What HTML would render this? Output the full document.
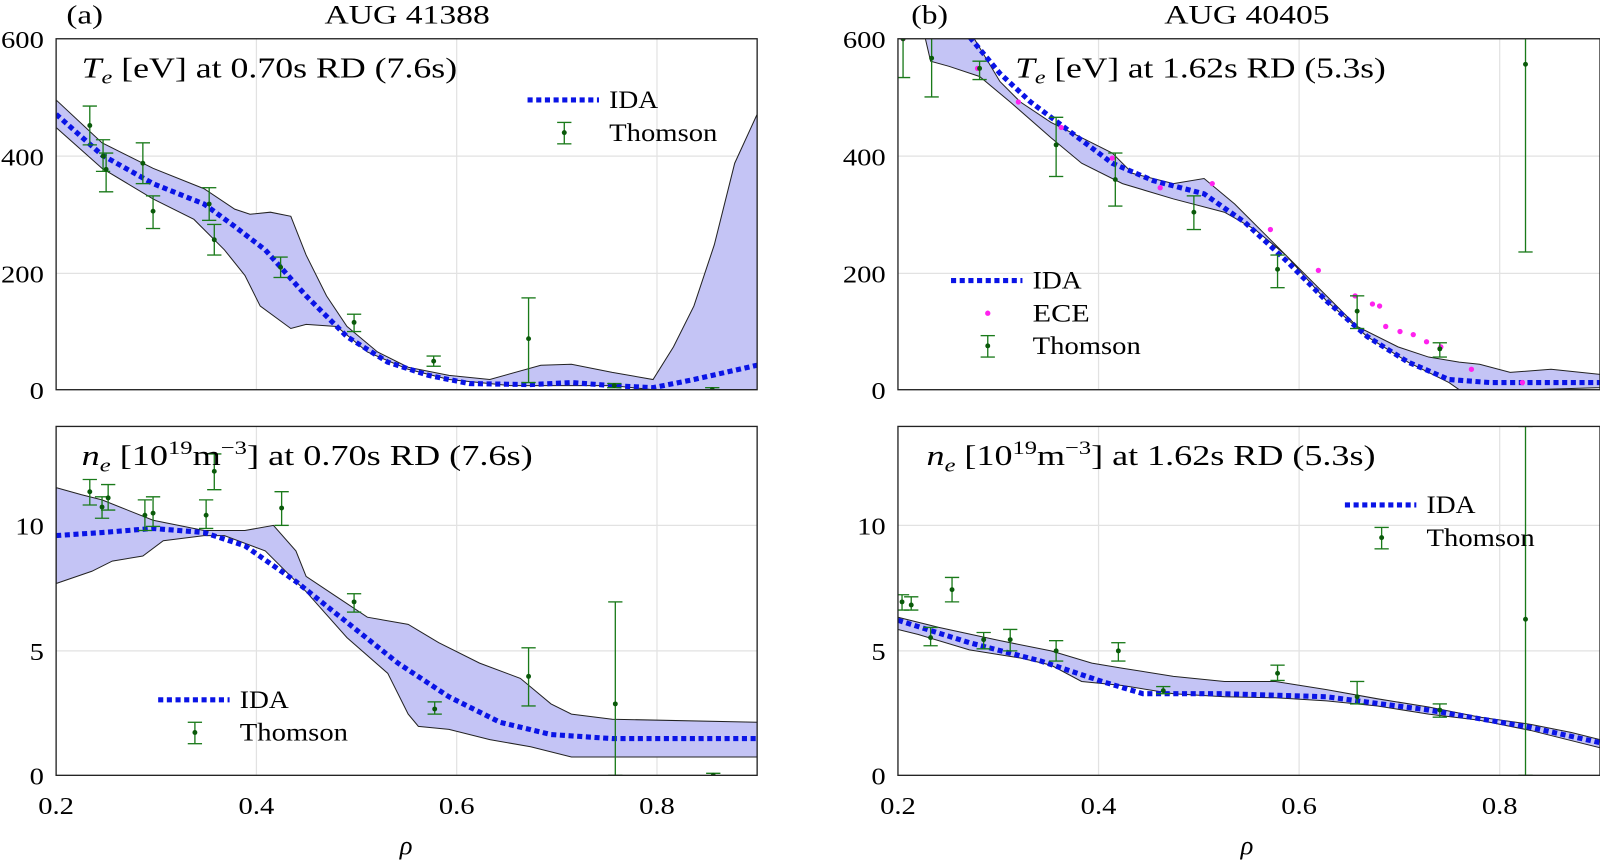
<!DOCTYPE html>
<html><head><meta charset="utf-8"><style>html,body{margin:0;padding:0;background:#fff}svg{display:block}</style></head>
<body>
<svg id="s" width="1600" height="860" viewBox="0 0 1568 843" preserveAspectRatio="none" xmlns="http://www.w3.org/2000/svg" font-family="Liberation Serif, serif">
<defs>
<clipPath id="c1"><rect x="55" y="38" width="687" height="344"/></clipPath>
<clipPath id="c2"><rect x="55" y="418" width="687" height="342"/></clipPath>
<clipPath id="c3"><rect x="880" y="38" width="688" height="344"/></clipPath>
<clipPath id="c4"><rect x="880" y="418" width="688" height="342"/></clipPath>
</defs>
</svg>
<script>
const S=document.getElementById('s');const NS='http://www.w3.org/2000/svg';
function el(t,a,p){const e=document.createElementNS(NS,t);for(const k in a)e.setAttribute(k,a[k]);(p||S).appendChild(e);return e;}
function txt(x,y,s,size,anchor,len){const a={x,y,'font-size':size,'text-anchor':anchor||'start',fill:'#000'};if(len){a.textLength=len;a.lengthAdjust='spacingAndGlyphs';}const e=el('text',a);e.innerHTML=s;return e;}
function pts(a){return a.map(p=>p.join(',')).join(' ');}
function panel(x0,y0,w,h,yt,xt,ylab,xlab,clip,up,lo,ida,th,ece){
  const ex=[0.4,0.6,0.8];
  ex.forEach((v,i)=>{const x=x0+(v-0.2)/0.7*w;el('line',{x1:x,x2:x,y1:y0,y2:y0+h,stroke:'#e2e2e2','stroke-width':1.2});});
  yt.forEach(([y,l])=>{el('line',{x1:x0,x2:x0+w,y1:y,y2:y,stroke:'#e2e2e2','stroke-width':1.2});if(ylab)txt(x0-12,y+9,l,24,'end',l.length*14);});
  const g=el('g',{'clip-path':'url(#'+clip+')'});
  el('polygon',{points:pts(up.concat(lo)),fill:'#c4c4f5',stroke:'#222','stroke-width':1},g);
  el('polyline',{points:pts(ida),fill:'none',stroke:'#0a14e6','stroke-width':5,'stroke-dasharray':'5 3.5'},g);
  if(ece)ece.forEach(p=>el('circle',{cx:p[0],cy:p[1],r:2.6,fill:'#ff22ee'},g));
  th.forEach(([x,y,t,b])=>{el('line',{x1:x,x2:x,y1:t,y2:b,stroke:'#1a7a1a','stroke-width':1.3},g);
    el('line',{x1:x-7,x2:x+7,y1:t,y2:t,stroke:'#1a7a1a','stroke-width':1.3},g);el('line',{x1:x-7,x2:x+7,y1:b,y2:b,stroke:'#1a7a1a','stroke-width':1.3},g);
    el('circle',{cx:x,cy:y,r:2.4,fill:'#0a5a0a'},g);});
  el('rect',{x:x0,y:y0,width:w,height:h,fill:'none',stroke:'#222','stroke-width':1.3});
  [0.2,0.4,0.6,0.8].forEach(v=>{const x=x0+(v-0.2)/0.7*w;if(xlab)txt(x,y0+h+38,v.toFixed(1),24,'middle',35);});
}
panel(55,38,687,344,[[38,'600'],[153,'400'],[268,'200'],[382,'0']],0,1,0,'c1',
[[55,98],[100,140],[150,165],[200,185],[230,205],[245,210],[265,208],[285,212],[300,250],[320,290],[340,320],[370,345],[400,360],[440,368],[480,372],[530,358],[560,357],[600,365],[640,372],[660,340],[680,300],[700,240],[720,160],[742,112]],
[[742,382],[640,382],[600,378],[560,378],[500,378],[440,372],[400,362],[360,345],[330,320],[300,318],[285,322],[255,300],[240,270],[220,245],[190,215],[150,195],[100,165],[55,125]],
[[55,112],[100,152],[150,180],[200,200],[230,222],[260,245],[300,290],[340,330],[380,355],[420,368],[460,376],[520,377],[560,375],[600,378],[640,380],[680,372],[742,358]],
[[88,123,104,142],[101,153,137,168],[104,166,150,188],[140,160,140,180],[150,207,192,224],[205,200,184,216],[210,235,220,250],[275,262,252,272],[347,316,308,325],[425,354,349,359],[518,332,292,375],[602,378,376,380],[698,382,380,384]]);
panel(55,418,687,342,[[515,'10'],[638,'5'],[760,'0']],0,1,1,'c2',
[[55,478],[80,485],[100,490],[150,510],[200,520],[240,520],[268,515],[290,540],[300,565],[330,585],[360,605],[400,612],[430,630],[470,650],[510,665],[540,690],[560,700],[600,705],[742,708]],
[[742,742],[620,742],[560,742],[520,732],[480,725],[440,715],[410,712],[400,700],[380,660],[340,625],[300,580],[260,540],[220,525],[200,525],[160,530],[140,545],[110,550],[90,560],[55,572]],
[[55,525],[100,522],[150,518],[200,522],[240,535],[290,570],[340,610],[390,650],[440,683],[490,708],[540,720],[600,724],[742,724]],
[[88,482,470,495],[100,497,487,508],[106,488,475,500],[142,505,490,520],[150,503,487,516],[202,505,490,518],[210,462,445,480],[276,498,482,515],[347,590,582,600],[426,695,688,700],[518,663,635,692],[603,690,590,760],[699,760,758,762]]);
panel(880,38,688,344,[[38,'600'],[153,'400'],[268,'200'],[382,'0']],0,1,0,'c3',
[[880,30],[950,30],[980,80],[1000,100],[1030,120],[1060,135],[1090,150],[1110,170],[1150,180],[1180,175],[1210,200],[1250,240],[1300,290],[1330,320],[1370,340],[1400,350],[1430,355],[1450,357],[1480,365],[1520,362],[1568,367]],
[[1568,380],[1500,382],[1430,382],[1420,375],[1380,355],[1340,330],[1300,295],[1260,250],[1230,225],[1200,208],[1150,195],[1100,180],[1060,160],[1030,135],[990,100],[960,75],[930,65],[912,60],[905,30]],
[[945,30],[980,72],[1010,100],[1050,130],[1090,160],[1130,177],[1180,190],[1220,218],[1260,255],[1300,295],[1340,330],[1380,355],[1420,372],[1460,375],[1568,375]],
[[885,38,30,76],[913,57,30,95],[960,67,60,78],[1035,142,115,173],[1093,176,150,202],[1170,208,192,225],[1252,264,250,282],[1330,305,290,322],[1411,342,336,350],[1495,63,30,247]],
[[885,38],[958,67],[998,100],[1040,125],[1090,155],[1137,184],[1188,180],[1245,225],[1292,265],[1328,290],[1345,298],[1352,300],[1358,320],[1372,325],[1385,328],[1398,335],[1412,340],[1442,362],[1492,375]]);
panel(880,418,688,342,[[515,'10'],[638,'5'],[760,'0']],0,1,1,'c4',
[[880,605],[920,615],[980,628],[1030,638],[1070,650],[1100,655],[1150,663],[1200,668],[1250,668],[1300,676],[1350,685],[1400,693],[1450,703],[1500,710],[1540,718],[1568,725]],
[[1568,733],[1500,716],[1450,706],[1400,700],[1350,692],[1300,687],[1250,684],[1200,683],[1150,680],[1100,672],[1060,668],[1030,652],[1000,645],[950,637],[900,622],[880,617]],
[[880,608],[950,630],[1020,648],[1080,668],[1120,680],[1200,680],[1300,683],[1400,696],[1500,713],[1568,728]],
[[884,590,583,598],[893,593,585,598],[912,625,615,633],[933,578,566,590],[964,627,620,636],[990,627,617,638],[1035,638,628,648],[1096,638,630,648],[1140,677,673,680],[1252,660,652,667],[1330,683,668,690],[1411,696,690,703],[1495,607,418,760]]);
function leg(x,y,items){items.forEach(([t,l],i)=>{const yy=y+i*32;
 if(t=='ida')el('line',{x1:x,x2:x+70,y1:yy,y2:yy,stroke:'#0a14e6','stroke-width':5,'stroke-dasharray':'5 3.5'});
 if(t=='ece')el('circle',{cx:x+36,cy:yy,r:2.6,fill:'#ff22ee'});
 if(t=='th'){const c=x+36;el('line',{x1:c,x2:c,y1:yy-10,y2:yy+11,stroke:'#1a7a1a','stroke-width':1.3});el('line',{x1:c-7,x2:c+7,y1:yy-10,y2:yy-10,stroke:'#1a7a1a','stroke-width':1.3});el('line',{x1:c-7,x2:c+7,y1:yy+11,y2:yy+11,stroke:'#1a7a1a','stroke-width':1.3});el('circle',{cx:c,cy:yy,r:2.4,fill:'#0a5a0a'});}
 const L={IDA:48,ECE:56,Thomson:106}[l];
 txt(x+80,yy+8,l,25,'start',L);});}
leg(517,98,[['ida','IDA'],['th','Thomson']]);
leg(155,686,[['ida','IDA'],['th','Thomson']]);
leg(932,275,[['ida','IDA'],['ece','ECE'],['th','Thomson']]);
leg(1318,495,[['ida','IDA'],['th','Thomson']]);
function te(x,y,s,len){txt(x,y,'<tspan font-style="italic">T<tspan font-size="19" dy="6">e</tspan></tspan><tspan dy="-6"> [eV] at '+s+'</tspan>',28,'start',len);}
function ne(x,y,s,len){txt(x,y,'<tspan font-style="italic">n<tspan font-size="19" dy="6">e</tspan></tspan><tspan dy="-6"> [10</tspan><tspan font-size="19" dy="-11">19</tspan><tspan dy="11">m</tspan><tspan font-size="19" dy="-11">−3</tspan><tspan dy="11">] at '+s+'</tspan>',28,'start',len);}
te(80,76,'0.70s RD (7.6s)',368);
te(995,76,'1.62s RD (5.3s)',363);
ne(80,456,'0.70s RD (7.6s)',442);
ne(908,456,'1.62s RD (5.3s)',440);
txt(65,23,'(a)',26,'start',36);txt(399,23,'AUG 41388',26,'middle',162);
txt(893,23,'(b)',26,'start',36);txt(1222,23,'AUG 40405',26,'middle',162);
txt(398,837,'<tspan font-style="italic">ρ</tspan>',26,'middle');txt(1222,837,'<tspan font-style="italic">ρ</tspan>',26,'middle');
</script>
</body></html>
